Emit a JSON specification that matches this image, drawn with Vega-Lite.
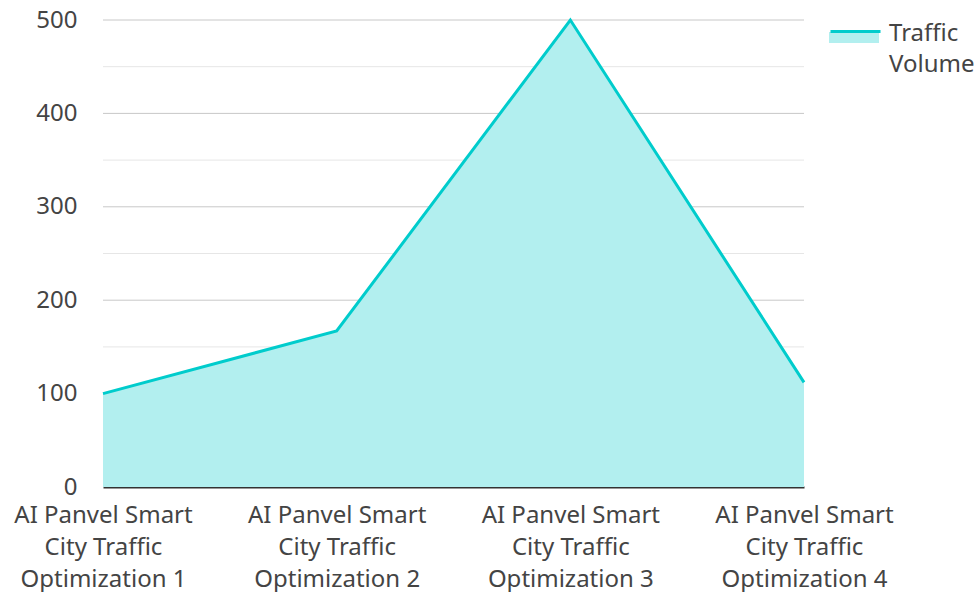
{
  "$schema": "https://vega.github.io/schema/vega-lite/v6.json",
  "width": 701,
  "height": 467,
  "autosize": {"type": "none"},
  "padding": {"left": 103, "top": 20, "right": 174, "bottom": 105},
  "background": "white",
  "config": {
    "view": {"stroke": null},
    "font": "Noto Sans"
  },
  "data": {
    "values": [
      {"category": "AI Panvel Smart City Traffic Optimization 1", "value": 100, "series": "Traffic Volume", "series2": "Traffic Volume"},
      {"category": "AI Panvel Smart City Traffic Optimization 2", "value": 167, "series": "Traffic Volume", "series2": "Traffic Volume"},
      {"category": "AI Panvel Smart City Traffic Optimization 3", "value": 500, "series": "Traffic Volume", "series2": "Traffic Volume"},
      {"category": "AI Panvel Smart City Traffic Optimization 4", "value": 112, "series": "Traffic Volume", "series2": "Traffic Volume"}
    ]
  },
  "encoding": {
    "x": {
      "field": "category",
      "type": "ordinal",
      "scale": {"type": "point", "padding": 0},
      "axis": {
        "title": null,
        "labelAngle": 0,
        "labelFontSize": 24,
        "labelColor": "#444444",
        "labelLineHeight": 32,
        "labelPadding": 16,
        "labelExpr": "[slice(datum.label,0,15), slice(datum.label,16,28), slice(datum.label,29)]",
        "ticks": false,
        "domainColor": "#333333",
        "domainWidth": 2,
        "grid": false
      }
    },
    "y": {
      "field": "value",
      "type": "quantitative",
      "scale": {"domain": [0, 500]},
      "axis": {
        "title": null,
        "values": [0, 100, 200, 300, 400, 500],
        "labelFontSize": 24,
        "labelColor": "#444444",
        "labelPadding": 26,
        "ticks": false,
        "domain": false,
        "grid": false
      }
    }
  },
  "layer": [
    {
      "mark": {"type": "rule", "color": "#e6e6e6", "strokeWidth": 1},
      "data": {"values": [{"g": 50}, {"g": 150}, {"g": 250}, {"g": 350}, {"g": 450}]},
      "encoding": {"y": {"field": "g", "type": "quantitative"}, "x": null}
    },
    {
      "mark": {"type": "rule", "color": "#c8c8c8", "strokeWidth": 1},
      "data": {"values": [{"g": 100}, {"g": 200}, {"g": 300}, {"g": 400}, {"g": 500}]},
      "encoding": {"y": {"field": "g", "type": "quantitative"}, "x": null}
    },
    {
      "mark": {"type": "area", "opacity": 1},
      "encoding": {
        "fill": {
          "field": "series2",
          "type": "nominal",
          "scale": {"range": ["#b2efef"]},
          "legend": {
            "orient": "none",
            "legendX": 726,
            "legendY": -6,
            "title": null,
            "symbolType": "M-1,-0.28H1V0.16H-1Z",
            "symbolSize": 2500,
            "symbolStrokeWidth": 0,
            "labelExpr": "''",
            "labelFontSize": 24
          }
        }
      }
    },
    {
      "mark": {"type": "line", "strokeWidth": 3},
      "encoding": {
        "stroke": {
          "field": "series",
          "type": "nominal",
          "scale": {"range": ["#00cccc"]},
          "legend": {
            "orient": "none",
            "legendX": 726,
            "legendY": -6,
            "title": null,
            "symbolType": "M-1,-0.36H1",
            "symbolSize": 2500,
            "symbolStrokeWidth": 3,
            "labelFontSize": 24,
            "labelColor": "#444444",
            "labelBaseline": "alphabetic",
            "labelOffset": 7,
            "labelExpr": "split(datum.label, ' ')",
            "encode": {"labels": {"update": {"lineHeight": {"value": 31}}}}
          }
        }
      }
    }
  ]
}
